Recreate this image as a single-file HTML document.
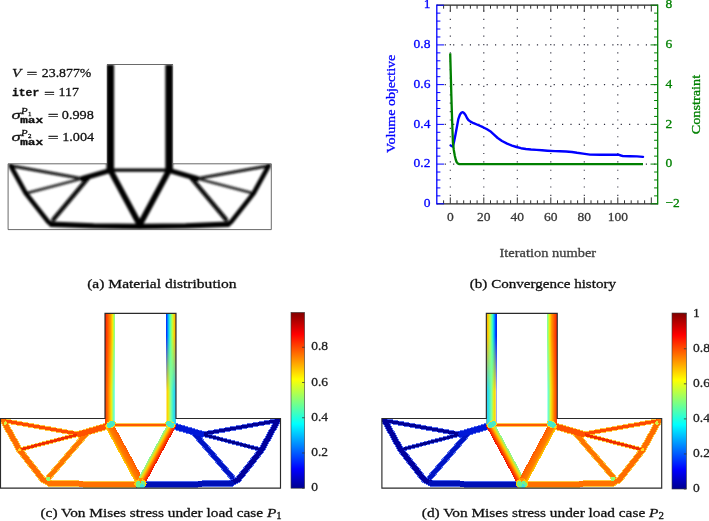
<!DOCTYPE html>
<html lang="en"><head><meta charset="utf-8"><title>Figure</title>
<style>html,body{margin:0;padding:0;background:#fff}body{width:709px;height:521px;overflow:hidden}svg{display:block}text{font-family:"Liberation Serif","DejaVu Serif",serif;stroke-width:0.3px;stroke-linejoin:round}.tt{font-family:"Liberation Mono","DejaVu Sans Mono",monospace;font-weight:bold}</style>
</head><body>
<svg width="709" height="521" viewBox="0 0 709 521">
<defs>
<filter id="blur" x="-5%" y="-5%" width="110%" height="110%"><feGaussianBlur stdDeviation="0.8"/></filter>
<linearGradient id="jet" x1="0" y1="1" x2="0" y2="0"><stop offset="0" stop-color="#00008f"/><stop offset="0.11" stop-color="#0000ff"/><stop offset="0.365" stop-color="#00ffff"/><stop offset="0.62" stop-color="#ffff00"/><stop offset="0.875" stop-color="#ff0000"/><stop offset="1" stop-color="#800000"/></linearGradient>
<linearGradient id="barHTf" x1="0" y1="0" x2="1" y2="0"><stop offset="0" stop-color="#ff1800"/><stop offset="0.3" stop-color="#ff5a00"/><stop offset="0.55" stop-color="#ff9800"/><stop offset="0.72" stop-color="#ffe000"/><stop offset="0.86" stop-color="#b0ff50"/><stop offset="1" stop-color="#70ffc0"/></linearGradient>
<linearGradient id="barHTr" x1="1" y1="0" x2="0" y2="0"><stop offset="0" stop-color="#ff1800"/><stop offset="0.3" stop-color="#ff5a00"/><stop offset="0.55" stop-color="#ff9800"/><stop offset="0.72" stop-color="#ffe000"/><stop offset="0.86" stop-color="#b0ff50"/><stop offset="1" stop-color="#70ffc0"/></linearGradient>
<linearGradient id="barHBf" x1="0" y1="0" x2="1" y2="0"><stop offset="0" stop-color="#ff3000"/><stop offset="0.3" stop-color="#ff7800"/><stop offset="0.5" stop-color="#ffc000"/><stop offset="0.65" stop-color="#e8f020"/><stop offset="0.8" stop-color="#80ffa0"/><stop offset="0.9" stop-color="#60ffe0"/><stop offset="1" stop-color="#ffffff"/></linearGradient>
<linearGradient id="barHBr" x1="1" y1="0" x2="0" y2="0"><stop offset="0" stop-color="#ff3000"/><stop offset="0.3" stop-color="#ff7800"/><stop offset="0.5" stop-color="#ffc000"/><stop offset="0.65" stop-color="#e8f020"/><stop offset="0.8" stop-color="#80ffa0"/><stop offset="0.9" stop-color="#60ffe0"/><stop offset="1" stop-color="#ffffff"/></linearGradient>
<linearGradient id="barCTf" x1="0" y1="0" x2="1" y2="0"><stop offset="0" stop-color="#ff8000"/><stop offset="0.14" stop-color="#ffc800"/><stop offset="0.36" stop-color="#c0ff40"/><stop offset="0.58" stop-color="#40ffc0"/><stop offset="0.76" stop-color="#00b0ff"/><stop offset="0.9" stop-color="#0040ff"/><stop offset="1" stop-color="#0028f0"/></linearGradient>
<linearGradient id="barCTr" x1="1" y1="0" x2="0" y2="0"><stop offset="0" stop-color="#ff8000"/><stop offset="0.14" stop-color="#ffc800"/><stop offset="0.36" stop-color="#c0ff40"/><stop offset="0.58" stop-color="#40ffc0"/><stop offset="0.76" stop-color="#00b0ff"/><stop offset="0.9" stop-color="#0040ff"/><stop offset="1" stop-color="#0028f0"/></linearGradient>
<linearGradient id="barCBf" x1="0" y1="0" x2="1" y2="0"><stop offset="0" stop-color="#30c0ff"/><stop offset="0.25" stop-color="#30e8e0"/><stop offset="0.5" stop-color="#80ffa0"/><stop offset="0.7" stop-color="#e0f020"/><stop offset="0.85" stop-color="#ffd000"/><stop offset="1" stop-color="#ffffff"/></linearGradient>
<linearGradient id="barCBr" x1="1" y1="0" x2="0" y2="0"><stop offset="0" stop-color="#30c0ff"/><stop offset="0.25" stop-color="#30e8e0"/><stop offset="0.5" stop-color="#80ffa0"/><stop offset="0.7" stop-color="#e0f020"/><stop offset="0.85" stop-color="#ffd000"/><stop offset="1" stop-color="#ffffff"/></linearGradient>
<linearGradient id="vf" x1="0" y1="0" x2="0" y2="1"><stop offset="0.2" stop-color="#000"/><stop offset="0.7" stop-color="#fff"/></linearGradient>
<mask id="vfade" maskContentUnits="objectBoundingBox"><rect width="1" height="1" fill="url(#vf)"/></mask>
<linearGradient id="g1L" gradientUnits="userSpaceOnUse" x1="121.14" y1="456.38" x2="128.71" y2="452.30"><stop offset="0" stop-color="#ffd000"/><stop offset="0.3" stop-color="#ff8000"/><stop offset="1" stop-color="#ff5a00"/></linearGradient>
<linearGradient id="g1R" gradientUnits="userSpaceOnUse" x1="152.29" y1="452.30" x2="159.86" y2="456.38"><stop offset="0" stop-color="#80ffa0"/><stop offset="0.35" stop-color="#ffd000"/><stop offset="0.7" stop-color="#ff5000"/><stop offset="1" stop-color="#f01000"/></linearGradient>
<linearGradient id="g2L" gradientUnits="userSpaceOnUse" x1="502.45" y1="456.38" x2="510.02" y2="452.30"><stop offset="0" stop-color="#f01000"/><stop offset="0.3" stop-color="#ff5000"/><stop offset="0.65" stop-color="#ffd000"/><stop offset="1" stop-color="#80ffa0"/></linearGradient>
<linearGradient id="g2R" gradientUnits="userSpaceOnUse" x1="533.58" y1="452.30" x2="541.15" y2="456.38"><stop offset="0" stop-color="#ff5a00"/><stop offset="0.7" stop-color="#ff8000"/><stop offset="1" stop-color="#ffd000"/></linearGradient>
</defs>
<rect width="709" height="521" fill="#fff"/>
<g id="mat">
<clipPath id="clipM"><path d="M8.1 163.8 H106.6 V64.5 H173.4 V163.8 H271.3 V229.6 H8.1 Z"/></clipPath>
<g clip-path="url(#clipM)"><g filter="url(#blur)" fill="none" stroke-linecap="round" stroke-linejoin="round">
<polyline points="10.73,165.77 82.45,178.58" stroke="#0c0c0c" stroke-width="2.90"/>
<polyline points="25.87,193.37 82.45,178.58" stroke="#2c2c2c" stroke-width="2.60"/>
<polyline points="10.73,165.77 25.87,193.37 48.24,221.94 51.53,224.24" stroke="#000" stroke-width="4.60"/>
<polyline points="87.72,178.39 53.50,219.32" stroke="#0a0a0a" stroke-width="4.40"/>
<polyline points="110.42,170.37 82.45,178.58" stroke="#000" stroke-width="5.20"/>
<polyline points="110.42,170.37 139.70,224.90" stroke="#000" stroke-width="5.80"/>
<polyline points="110.29,64.59 110.29,169.06" stroke="#000" stroke-width="7.6" stroke-linecap="butt"/>
<polyline points="51.53,224.24 93.64,225.89 139.70,226.54" stroke="#000" stroke-width="5.40"/>
<polyline points="268.67,165.77 196.95,178.58" stroke="#0c0c0c" stroke-width="2.90"/>
<polyline points="253.53,193.37 196.95,178.58" stroke="#2c2c2c" stroke-width="2.60"/>
<polyline points="268.67,165.77 253.53,193.37 231.16,221.94 227.87,224.24" stroke="#000" stroke-width="4.60"/>
<polyline points="191.68,178.39 225.90,219.32" stroke="#0a0a0a" stroke-width="4.40"/>
<polyline points="168.98,170.37 196.95,178.58" stroke="#000" stroke-width="5.20"/>
<polyline points="168.98,170.37 139.70,224.90" stroke="#000" stroke-width="5.80"/>
<polyline points="169.11,64.59 169.11,169.06" stroke="#000" stroke-width="7.6" stroke-linecap="butt"/>
<polyline points="227.87,224.24 185.76,225.89 139.70,226.54" stroke="#000" stroke-width="5.40"/>
<polyline points="110.42,170.17 168.98,170.17" stroke="#050505" stroke-width="3.3"/>
</g></g>
<path d="M107 163.8 H8.1 V229.6 H271.3 V163.8 H173" fill="none" stroke="#444" stroke-width="0.8"/>
<line x1="107" y1="64.5" x2="173" y2="64.5" stroke="#444" stroke-width="0.8"/>
</g>
<g id="labels" fill="#111" stroke="#111">
<text x="12.00" y="76.90" font-size="13.5" textLength="9.30" lengthAdjust="spacingAndGlyphs" font-style="italic">V</text>
<text x="26.60" y="78.00" font-size="13.5" textLength="10.90" lengthAdjust="spacingAndGlyphs">=</text>
<text x="41.80" y="76.90" font-size="13.5" textLength="49.60" lengthAdjust="spacingAndGlyphs">23.877%</text>
<text x="12.00" y="96.40" font-size="11.6" textLength="27.20" lengthAdjust="spacingAndGlyphs" class="tt">iter</text>
<text x="43.90" y="97.50" font-size="13.5" textLength="10.90" lengthAdjust="spacingAndGlyphs">=</text>
<text x="58.60" y="96.40" font-size="13.5" textLength="20.40" lengthAdjust="spacingAndGlyphs">117</text>
<text x="11.60" y="119.20" font-size="13.5" textLength="9.20" lengthAdjust="spacingAndGlyphs" font-style="italic">σ</text>
<text x="20.20" y="122.50" font-size="8.4" textLength="22.80" lengthAdjust="spacingAndGlyphs" class="tt">max</text>
<text x="21.00" y="114.30" font-size="9.2" textLength="6.60" lengthAdjust="spacingAndGlyphs" font-style="italic">P</text>
<text x="28.00" y="115.80" font-size="7">1</text>
<text x="47.80" y="120.30" font-size="13.5" textLength="10.90" lengthAdjust="spacingAndGlyphs">=</text>
<text x="61.80" y="119.20" font-size="13.5" textLength="32.00" lengthAdjust="spacingAndGlyphs">0.998</text>
<text x="11.60" y="141.20" font-size="13.5" textLength="9.20" lengthAdjust="spacingAndGlyphs" font-style="italic">σ</text>
<text x="20.20" y="144.50" font-size="8.4" textLength="22.80" lengthAdjust="spacingAndGlyphs" class="tt">max</text>
<text x="21.00" y="136.30" font-size="9.2" textLength="6.60" lengthAdjust="spacingAndGlyphs" font-style="italic">P</text>
<text x="28.00" y="137.80" font-size="7">2</text>
<text x="47.80" y="142.30" font-size="13.5" textLength="10.90" lengthAdjust="spacingAndGlyphs">=</text>
<text x="62.20" y="141.20" font-size="13.5" textLength="32.00" lengthAdjust="spacingAndGlyphs">1.004</text>
</g>
<g id="chart">
<g stroke="#2c2c3c" stroke-width="1.1" stroke-dasharray="1.2 7.18" fill="none">
<line x1="450.30" y1="196.00" x2="450.30" y2="6.20"/>
<line x1="483.80" y1="196.00" x2="483.80" y2="6.20"/>
<line x1="517.30" y1="196.00" x2="517.30" y2="6.20"/>
<line x1="550.80" y1="196.00" x2="550.80" y2="6.20"/>
<line x1="584.30" y1="196.00" x2="584.30" y2="6.20"/>
<line x1="617.80" y1="196.00" x2="617.80" y2="6.20"/>
<line x1="444.70" y1="164.08" x2="656.70" y2="164.08"/>
<line x1="444.70" y1="124.36" x2="656.70" y2="124.36"/>
<line x1="444.70" y1="84.64" x2="656.70" y2="84.64"/>
<line x1="444.70" y1="44.92" x2="656.70" y2="44.92"/>
</g>
<line x1="436.80" y1="5.20" x2="657.70" y2="5.20" stroke="#222" stroke-width="1.2"/>
<line x1="436.80" y1="203.80" x2="657.70" y2="203.80" stroke="#222" stroke-width="1.2"/>
<path d="M443.60 203.80v-3.50 M443.60 5.20v3.50 M450.30 203.80v-6.40 M450.30 5.20v6.40 M457.00 203.80v-3.50 M457.00 5.20v3.50 M463.70 203.80v-3.50 M463.70 5.20v3.50 M470.40 203.80v-3.50 M470.40 5.20v3.50 M477.10 203.80v-3.50 M477.10 5.20v3.50 M483.80 203.80v-6.40 M483.80 5.20v6.40 M490.50 203.80v-3.50 M490.50 5.20v3.50 M497.20 203.80v-3.50 M497.20 5.20v3.50 M503.90 203.80v-3.50 M503.90 5.20v3.50 M510.60 203.80v-3.50 M510.60 5.20v3.50 M517.30 203.80v-6.40 M517.30 5.20v6.40 M524.00 203.80v-3.50 M524.00 5.20v3.50 M530.70 203.80v-3.50 M530.70 5.20v3.50 M537.40 203.80v-3.50 M537.40 5.20v3.50 M544.10 203.80v-3.50 M544.10 5.20v3.50 M550.80 203.80v-6.40 M550.80 5.20v6.40 M557.50 203.80v-3.50 M557.50 5.20v3.50 M564.20 203.80v-3.50 M564.20 5.20v3.50 M570.90 203.80v-3.50 M570.90 5.20v3.50 M577.60 203.80v-3.50 M577.60 5.20v3.50 M584.30 203.80v-6.40 M584.30 5.20v6.40 M591.00 203.80v-3.50 M591.00 5.20v3.50 M597.70 203.80v-3.50 M597.70 5.20v3.50 M604.40 203.80v-3.50 M604.40 5.20v3.50 M611.10 203.80v-3.50 M611.10 5.20v3.50 M617.80 203.80v-6.40 M617.80 5.20v6.40 M624.50 203.80v-3.50 M624.50 5.20v3.50 M631.20 203.80v-3.50 M631.20 5.20v3.50 M637.90 203.80v-3.50 M637.90 5.20v3.50 M644.60 203.80v-3.50 M644.60 5.20v3.50 M651.30 203.80v-6.40 M651.30 5.20v6.40" stroke="#333" stroke-width="1" fill="none"/>
<path d="M436.80 203.80h7.20 M436.80 195.86h3.60 M436.80 187.91h3.60 M436.80 179.97h3.60 M436.80 172.02h3.60 M436.80 164.08h7.20 M436.80 156.14h3.60 M436.80 148.19h3.60 M436.80 140.25h3.60 M436.80 132.30h3.60 M436.80 124.36h7.20 M436.80 116.42h3.60 M436.80 108.47h3.60 M436.80 100.53h3.60 M436.80 92.58h3.60 M436.80 84.64h7.20 M436.80 76.70h3.60 M436.80 68.75h3.60 M436.80 60.81h3.60 M436.80 52.86h3.60 M436.80 44.92h7.20 M436.80 36.98h3.60 M436.80 29.03h3.60 M436.80 21.09h3.60 M436.80 13.14h3.60 M436.80 5.20h7.20" stroke="#0000ff" stroke-width="1" fill="none"/>
<path d="M657.70 203.80h-7.20 M657.70 195.86h-3.60 M657.70 187.91h-3.60 M657.70 179.97h-3.60 M657.70 172.02h-3.60 M657.70 164.08h-7.20 M657.70 156.14h-3.60 M657.70 148.19h-3.60 M657.70 140.25h-3.60 M657.70 132.30h-3.60 M657.70 124.36h-7.20 M657.70 116.42h-3.60 M657.70 108.47h-3.60 M657.70 100.53h-3.60 M657.70 92.58h-3.60 M657.70 84.64h-7.20 M657.70 76.70h-3.60 M657.70 68.75h-3.60 M657.70 60.81h-3.60 M657.70 52.86h-3.60 M657.70 44.92h-7.20 M657.70 36.98h-3.60 M657.70 29.03h-3.60 M657.70 21.09h-3.60 M657.70 13.14h-3.60 M657.70 5.20h-7.20" stroke="#008000" stroke-width="1" fill="none"/>
<line x1="436.80" y1="4.60" x2="436.80" y2="204.40" stroke="#0000ff" stroke-width="1.3"/>
<line x1="657.70" y1="4.60" x2="657.70" y2="204.40" stroke="#008000" stroke-width="1.3"/>
<polyline points="450.7,145.5 452.9,146.6 454.2,141.0 455.6,134.0 458.3,119.2 460.0,114.5 461.5,112.6 462.8,112.2 464.0,113.0 465.5,115.0 467.0,118.0 468.4,120.0 470.5,121.6 473.6,123.2 478.0,125.0 483.0,127.2 487.0,129.3 491.0,131.8 494.0,134.6 497.7,138.0 502.0,141.0 507.1,143.6 512.0,145.6 516.5,147.0 521.0,148.2 525.9,149.0 531.0,149.5 536.6,149.9 542.0,150.3 547.4,150.7 555.0,151.1 560.0,151.2 566.0,151.5 572.0,152.0 577.0,152.8 583.0,153.6 590.0,154.6 600.0,154.8 610.0,154.8 619.0,154.8 621.0,155.5 623.0,156.1 630.0,156.2 637.0,156.4 643.0,156.9" fill="none" stroke="#0000ff" stroke-width="2.4" stroke-linejoin="round" stroke-linecap="round"/>
<polyline points="450.2,53.4 450.8,75.0 451.3,93.7 452.1,120.0 452.9,142.0 453.8,150.0 454.8,155.8 455.7,159.5 456.6,162.0 457.8,163.5 459.3,164.1 643.0,164.1" fill="none" stroke="#008000" stroke-width="2.3" stroke-linejoin="round" stroke-linecap="butt"/>
<text x="430.40" y="207.00" font-size="13.5" fill="#0000ff" stroke="#0000ff" text-anchor="end">0</text>
<text x="430.40" y="167.28" font-size="13.5" fill="#0000ff" stroke="#0000ff" text-anchor="end">0.2</text>
<text x="430.40" y="127.56" font-size="13.5" fill="#0000ff" stroke="#0000ff" text-anchor="end">0.4</text>
<text x="430.40" y="87.84" font-size="13.5" fill="#0000ff" stroke="#0000ff" text-anchor="end">0.6</text>
<text x="430.40" y="48.12" font-size="13.5" fill="#0000ff" stroke="#0000ff" text-anchor="end">0.8</text>
<text x="430.40" y="8.40" font-size="13.5" fill="#0000ff" stroke="#0000ff" text-anchor="end">1</text>
<text x="665.40" y="207.00" font-size="13.5" fill="#008000" stroke="#008000">−2</text>
<text x="665.40" y="167.28" font-size="13.5" fill="#008000" stroke="#008000">0</text>
<text x="665.40" y="127.56" font-size="13.5" fill="#008000" stroke="#008000">2</text>
<text x="665.40" y="87.84" font-size="13.5" fill="#008000" stroke="#008000">4</text>
<text x="665.40" y="48.12" font-size="13.5" fill="#008000" stroke="#008000">6</text>
<text x="665.40" y="8.40" font-size="13.5" fill="#008000" stroke="#008000">8</text>
<text x="450.30" y="221.20" font-size="13.5" fill="#383838" stroke="#383838" text-anchor="middle" stroke-width="0.15">0</text>
<text x="483.80" y="221.20" font-size="13.5" fill="#383838" stroke="#383838" text-anchor="middle" stroke-width="0.15">20</text>
<text x="517.30" y="221.20" font-size="13.5" fill="#383838" stroke="#383838" text-anchor="middle" stroke-width="0.15">40</text>
<text x="550.80" y="221.20" font-size="13.5" fill="#383838" stroke="#383838" text-anchor="middle" stroke-width="0.15">60</text>
<text x="584.30" y="221.20" font-size="13.5" fill="#383838" stroke="#383838" text-anchor="middle" stroke-width="0.15">80</text>
<text x="617.80" y="221.20" font-size="13.5" fill="#383838" stroke="#383838" text-anchor="middle" stroke-width="0.15">100</text>
<text x="499.50" y="256.50" font-size="13.5" textLength="96.60" lengthAdjust="spacingAndGlyphs" fill="#404040" stroke="#404040" stroke-width="0.12">Iteration number</text>
<g transform="translate(395.4 152.9) rotate(-90)">
<text x="0.00" y="0.00" font-size="13.5" textLength="98.20" lengthAdjust="spacingAndGlyphs" fill="#0000ff" stroke="#0000ff">Volume objective</text>
</g>
<g transform="translate(700.3 134.3) rotate(-90)">
<text x="0.00" y="0.00" font-size="13.5" textLength="59.40" lengthAdjust="spacingAndGlyphs" fill="#008000" stroke="#008000">Constraint</text>
</g>
</g>
<g id="stress1">
<clipPath id="clipT1"><path d="M0.50 418.50 H105.01 V313.30 H175.99 V418.50 H280.50 V488.10 H0.50 Z"/></clipPath>
<g fill="none" stroke-linejoin="round" shape-rendering="crispEdges" clip-path="url(#clipT1)">
<polyline points="3.30,420.59 79.60,434.16" stroke="#ffb400" stroke-width="4.90" stroke-linecap="round" stroke-opacity="0.75"/>
<polyline points="19.40,449.82 79.60,434.16" stroke="#ffb400" stroke-width="4.50" stroke-linecap="round" stroke-opacity="0.75"/>
<polyline points="3.30,420.59 19.40,449.82 43.20,480.10 49.50,482.88" stroke="#ffb400" stroke-width="6.70" stroke-linecap="round" stroke-opacity="0.75"/>
<polyline points="86.60,433.46 48.80,477.31" stroke="#ffb400" stroke-width="6.10" stroke-linecap="round" stroke-opacity="0.75"/>
<polyline points="109.35,425.46 79.60,434.16" stroke="#ffb400" stroke-width="7.30" stroke-linecap="round" stroke-opacity="0.75"/>
<polyline points="49.50,483.23 91.50,484.27 142.60,484.62" stroke="#ffb400" stroke-width="6.90" stroke-linecap="round" stroke-opacity="0.75"/>
<polyline points="277.70,420.59 201.40,434.16" stroke="#1838e8" stroke-width="4.90" stroke-linecap="round" stroke-opacity="0.75"/>
<polyline points="261.60,449.82 201.40,434.16" stroke="#1838e8" stroke-width="4.50" stroke-linecap="round" stroke-opacity="0.75"/>
<polyline points="277.70,420.59 261.60,449.82 237.80,480.10 231.50,482.88" stroke="#1838e8" stroke-width="6.70" stroke-linecap="round" stroke-opacity="0.75"/>
<polyline points="194.40,433.46 232.20,477.31" stroke="#1838e8" stroke-width="6.10" stroke-linecap="round" stroke-opacity="0.75"/>
<polyline points="171.65,425.46 201.40,434.16" stroke="#1838e8" stroke-width="7.30" stroke-linecap="round" stroke-opacity="0.75"/>
<polyline points="231.50,483.23 189.50,484.27 138.40,484.62" stroke="#1838e8" stroke-width="6.90" stroke-linecap="round" stroke-opacity="0.75"/>
<polyline points="3.30,420.59 79.60,434.16" stroke="#ff4a00" stroke-width="3.10" stroke-linecap="round"/>
<polyline points="19.40,449.82 79.60,434.16" stroke="#f02c00" stroke-width="2.70" stroke-linecap="round"/>
<polyline points="3.30,420.59 19.40,449.82 43.20,480.10 49.50,482.88" stroke="#ff6c00" stroke-width="4.90" stroke-linecap="round"/>
<polyline points="86.60,433.46 48.80,477.31" stroke="#ff7600" stroke-width="4.30" stroke-linecap="round"/>
<polyline points="109.35,425.46 79.60,434.16" stroke="#ff5200" stroke-width="5.50" stroke-linecap="round"/>
<polyline points="49.50,483.23 91.50,484.27 142.60,484.62" stroke="#ff7200" stroke-width="5.10" stroke-linecap="round"/>
<polyline points="277.70,420.59 201.40,434.16" stroke="#000096" stroke-width="3.10" stroke-linecap="round"/>
<polyline points="261.60,449.82 201.40,434.16" stroke="#00008c" stroke-width="2.70" stroke-linecap="round"/>
<polyline points="277.70,420.59 261.60,449.82 237.80,480.10 231.50,482.88" stroke="#00009c" stroke-width="4.90" stroke-linecap="round"/>
<polyline points="194.40,433.46 232.20,477.31" stroke="#0014c4" stroke-width="4.30" stroke-linecap="round"/>
<polyline points="171.65,425.46 201.40,434.16" stroke="#0018d8" stroke-width="5.50" stroke-linecap="round"/>
<polyline points="231.50,483.23 189.50,484.27 138.40,484.62" stroke="#0010b8" stroke-width="5.10" stroke-linecap="round"/>
<line x1="109.35" y1="425.46" x2="140.50" y2="483.23" stroke="url(#g1L)" stroke-width="8.6" stroke-linecap="round"/>
<line x1="171.65" y1="425.46" x2="140.50" y2="483.23" stroke="url(#g1R)" stroke-width="8.6" stroke-linecap="round"/>
<rect x="105.01" y="313.50" width="10.29" height="111.26" fill="url(#barHTf)"/>
<rect x="105.01" y="313.50" width="10.29" height="111.26" fill="url(#barHBf)" mask="url(#vfade)"/>
<rect x="165.70" y="313.50" width="10.29" height="111.26" fill="url(#barCTr)"/>
<rect x="165.70" y="313.50" width="10.29" height="111.26" fill="url(#barCBr)" mask="url(#vfade)"/>
<line x1="112.35" y1="425.06" x2="168.65" y2="425.06" stroke="#ffb400" stroke-opacity="0.7" stroke-width="4.2"/>
<line x1="112.35" y1="425.06" x2="168.65" y2="425.06" stroke="#ff5a00" stroke-width="2.6"/>
<ellipse cx="110.75" cy="424.42" rx="5.4" ry="3.6" fill="#f8e020" transform="rotate(-28 110.75 424.42)"/>
<ellipse cx="110.75" cy="424.42" rx="4.4" ry="2.8" fill="#48e8c8" transform="rotate(-28 110.75 424.42)"/>
<circle cx="48.30" cy="478.81" r="2.2" fill="#90ff70"/>
<circle cx="19.40" cy="449.82" r="1.6" fill="#ffd820"/>
<circle cx="5.30" cy="423.09" r="1.8" fill="#d8f040"/>
<ellipse cx="170.25" cy="424.42" rx="5.4" ry="3.6" fill="#f8e020" transform="rotate(28 170.25 424.42)"/>
<ellipse cx="170.25" cy="424.42" rx="4.4" ry="2.8" fill="#48e8c8" transform="rotate(28 170.25 424.42)"/>
<ellipse cx="140.50" cy="483.73" rx="6.2" ry="4.8" fill="#ffc800"/>
<ellipse cx="140.50" cy="484.43" rx="5" ry="4" fill="#70f090"/>
<circle cx="142.00" cy="486.23" r="2" fill="#40e0e0"/>
<path d="M140.50 482.73 l-2.6 -4.5 h5.2z" fill="#ff9000"/>
</g>
<path d="M0.50 418.50 H105.01 V313.30 H175.99 V418.50 H280.50 V488.10 H0.50 Z" fill="none" stroke="#2a2a2a" stroke-width="1.15"/>
</g>
<rect x="291.00" y="312.40" width="13.60" height="175.80" fill="url(#jet)" stroke="#3a3a3a" stroke-width="0.6"/>
<line x1="302.10" y1="488.20" x2="304.60" y2="488.20" stroke="#333" stroke-width="0.8"/>
<text x="311.20" y="491.30" font-size="13.5" fill="#222" stroke="#222">0</text>
<line x1="302.10" y1="452.97" x2="304.60" y2="452.97" stroke="#333" stroke-width="0.8"/>
<text x="311.20" y="456.07" font-size="13.5" fill="#222" stroke="#222">0.2</text>
<line x1="302.10" y1="417.74" x2="304.60" y2="417.74" stroke="#333" stroke-width="0.8"/>
<text x="311.20" y="420.84" font-size="13.5" fill="#222" stroke="#222">0.4</text>
<line x1="302.10" y1="382.51" x2="304.60" y2="382.51" stroke="#333" stroke-width="0.8"/>
<text x="311.20" y="385.61" font-size="13.5" fill="#222" stroke="#222">0.6</text>
<line x1="302.10" y1="347.28" x2="304.60" y2="347.28" stroke="#333" stroke-width="0.8"/>
<text x="311.20" y="350.38" font-size="13.5" fill="#222" stroke="#222">0.8</text>
<g id="stress2">
<clipPath id="clipT2"><path d="M381.90 418.50 H486.34 V313.30 H557.26 V418.50 H661.70 V488.10 H381.90 Z"/></clipPath>
<g fill="none" stroke-linejoin="round" shape-rendering="crispEdges" clip-path="url(#clipT2)">
<polyline points="384.70,420.59 460.94,434.16" stroke="#1838e8" stroke-width="4.90" stroke-linecap="round" stroke-opacity="0.75"/>
<polyline points="400.79,449.82 460.94,434.16" stroke="#1838e8" stroke-width="4.50" stroke-linecap="round" stroke-opacity="0.75"/>
<polyline points="384.70,420.59 400.79,449.82 424.57,480.10 430.86,482.88" stroke="#1838e8" stroke-width="6.70" stroke-linecap="round" stroke-opacity="0.75"/>
<polyline points="467.94,433.46 430.17,477.31" stroke="#1838e8" stroke-width="6.10" stroke-linecap="round" stroke-opacity="0.75"/>
<polyline points="490.67,425.46 460.94,434.16" stroke="#1838e8" stroke-width="7.30" stroke-linecap="round" stroke-opacity="0.75"/>
<polyline points="430.86,483.23 472.83,484.27 523.90,484.62" stroke="#1838e8" stroke-width="6.90" stroke-linecap="round" stroke-opacity="0.75"/>
<polyline points="658.90,420.59 582.66,434.16" stroke="#ffb400" stroke-width="4.90" stroke-linecap="round" stroke-opacity="0.75"/>
<polyline points="642.81,449.82 582.66,434.16" stroke="#ffb400" stroke-width="4.50" stroke-linecap="round" stroke-opacity="0.75"/>
<polyline points="658.90,420.59 642.81,449.82 619.03,480.10 612.74,482.88" stroke="#ffb400" stroke-width="6.70" stroke-linecap="round" stroke-opacity="0.75"/>
<polyline points="575.66,433.46 613.43,477.31" stroke="#ffb400" stroke-width="6.10" stroke-linecap="round" stroke-opacity="0.75"/>
<polyline points="552.93,425.46 582.66,434.16" stroke="#ffb400" stroke-width="7.30" stroke-linecap="round" stroke-opacity="0.75"/>
<polyline points="612.74,483.23 570.76,484.27 519.70,484.62" stroke="#ffb400" stroke-width="6.90" stroke-linecap="round" stroke-opacity="0.75"/>
<polyline points="384.70,420.59 460.94,434.16" stroke="#000096" stroke-width="3.10" stroke-linecap="round"/>
<polyline points="400.79,449.82 460.94,434.16" stroke="#00008c" stroke-width="2.70" stroke-linecap="round"/>
<polyline points="384.70,420.59 400.79,449.82 424.57,480.10 430.86,482.88" stroke="#00009c" stroke-width="4.90" stroke-linecap="round"/>
<polyline points="467.94,433.46 430.17,477.31" stroke="#0014c4" stroke-width="4.30" stroke-linecap="round"/>
<polyline points="490.67,425.46 460.94,434.16" stroke="#0018d8" stroke-width="5.50" stroke-linecap="round"/>
<polyline points="430.86,483.23 472.83,484.27 523.90,484.62" stroke="#0010b8" stroke-width="5.10" stroke-linecap="round"/>
<polyline points="658.90,420.59 582.66,434.16" stroke="#ff4a00" stroke-width="3.10" stroke-linecap="round"/>
<polyline points="642.81,449.82 582.66,434.16" stroke="#f02c00" stroke-width="2.70" stroke-linecap="round"/>
<polyline points="658.90,420.59 642.81,449.82 619.03,480.10 612.74,482.88" stroke="#ff6c00" stroke-width="4.90" stroke-linecap="round"/>
<polyline points="575.66,433.46 613.43,477.31" stroke="#ff7600" stroke-width="4.30" stroke-linecap="round"/>
<polyline points="552.93,425.46 582.66,434.16" stroke="#ff5200" stroke-width="5.50" stroke-linecap="round"/>
<polyline points="612.74,483.23 570.76,484.27 519.70,484.62" stroke="#ff7200" stroke-width="5.10" stroke-linecap="round"/>
<line x1="490.67" y1="425.46" x2="521.80" y2="483.23" stroke="url(#g2L)" stroke-width="8.6" stroke-linecap="round"/>
<line x1="552.93" y1="425.46" x2="521.80" y2="483.23" stroke="url(#g2R)" stroke-width="8.6" stroke-linecap="round"/>
<rect x="486.34" y="313.50" width="10.28" height="111.26" fill="url(#barCTf)"/>
<rect x="486.34" y="313.50" width="10.28" height="111.26" fill="url(#barCBf)" mask="url(#vfade)"/>
<rect x="546.98" y="313.50" width="10.28" height="111.26" fill="url(#barHTr)"/>
<rect x="546.98" y="313.50" width="10.28" height="111.26" fill="url(#barHBr)" mask="url(#vfade)"/>
<line x1="493.67" y1="425.06" x2="549.93" y2="425.06" stroke="#ffb400" stroke-opacity="0.7" stroke-width="4.2"/>
<line x1="493.67" y1="425.06" x2="549.93" y2="425.06" stroke="#ff5a00" stroke-width="2.6"/>
<ellipse cx="492.07" cy="424.42" rx="5.4" ry="3.6" fill="#f8e020" transform="rotate(-28 492.07 424.42)"/>
<ellipse cx="492.07" cy="424.42" rx="4.4" ry="2.8" fill="#48e8c8" transform="rotate(-28 492.07 424.42)"/>
<ellipse cx="551.53" cy="424.42" rx="5.4" ry="3.6" fill="#f8e020" transform="rotate(28 551.53 424.42)"/>
<ellipse cx="551.53" cy="424.42" rx="4.4" ry="2.8" fill="#48e8c8" transform="rotate(28 551.53 424.42)"/>
<circle cx="612.93" cy="478.81" r="2.2" fill="#90ff70"/>
<circle cx="642.81" cy="449.82" r="1.6" fill="#ffd820"/>
<circle cx="656.90" cy="423.09" r="1.8" fill="#d8f040"/>
<ellipse cx="521.80" cy="483.73" rx="6.2" ry="4.8" fill="#ffc800"/>
<ellipse cx="521.80" cy="484.43" rx="5" ry="4" fill="#70f090"/>
<circle cx="523.30" cy="486.23" r="2" fill="#40e0e0"/>
<path d="M521.80 482.73 l-2.6 -4.5 h5.2z" fill="#ff9000"/>
</g>
<path d="M381.90 418.50 H486.34 V313.30 H557.26 V418.50 H661.70 V488.10 H381.90 Z" fill="none" stroke="#2a2a2a" stroke-width="1.15"/>
</g>
<rect x="672.00" y="313.00" width="14.40" height="176.00" fill="url(#jet)" stroke="#3a3a3a" stroke-width="0.6"/>
<line x1="683.90" y1="489.00" x2="686.40" y2="489.00" stroke="#333" stroke-width="0.8"/>
<text x="693.00" y="492.10" font-size="13.5" fill="#222" stroke="#222">0</text>
<line x1="683.90" y1="453.94" x2="686.40" y2="453.94" stroke="#333" stroke-width="0.8"/>
<text x="693.00" y="457.04" font-size="13.5" fill="#222" stroke="#222">0.2</text>
<line x1="683.90" y1="418.88" x2="686.40" y2="418.88" stroke="#333" stroke-width="0.8"/>
<text x="693.00" y="421.98" font-size="13.5" fill="#222" stroke="#222">0.4</text>
<line x1="683.90" y1="383.82" x2="686.40" y2="383.82" stroke="#333" stroke-width="0.8"/>
<text x="693.00" y="386.92" font-size="13.5" fill="#222" stroke="#222">0.6</text>
<line x1="683.90" y1="348.76" x2="686.40" y2="348.76" stroke="#333" stroke-width="0.8"/>
<text x="693.00" y="351.86" font-size="13.5" fill="#222" stroke="#222">0.8</text>
<line x1="683.90" y1="313.70" x2="686.40" y2="313.70" stroke="#333" stroke-width="0.8"/>
<text x="693.00" y="316.80" font-size="13.5" fill="#222" stroke="#222">1</text>
<g id="captions" fill="#111" stroke="#111">
<text x="87.20" y="287.90" font-size="13.5" textLength="149.40" lengthAdjust="spacingAndGlyphs">(a) Material distribution</text>
<text x="469.80" y="287.90" font-size="13.5" textLength="146.20" lengthAdjust="spacingAndGlyphs">(b) Convergence history</text>
<text x="40.50" y="516.70" font-size="13.5" textLength="241.20" lengthAdjust="spacingAndGlyphs">(c) Von Mises stress under load case <tspan font-style="italic">P</tspan><tspan font-size="9.5" dy="2">1</tspan></text>
<text x="421.80" y="516.70" font-size="13.5" textLength="242.00" lengthAdjust="spacingAndGlyphs">(d) Von Mises stress under load case <tspan font-style="italic">P</tspan><tspan font-size="9.5" dy="2">2</tspan></text>
</g>
</svg></body></html>
